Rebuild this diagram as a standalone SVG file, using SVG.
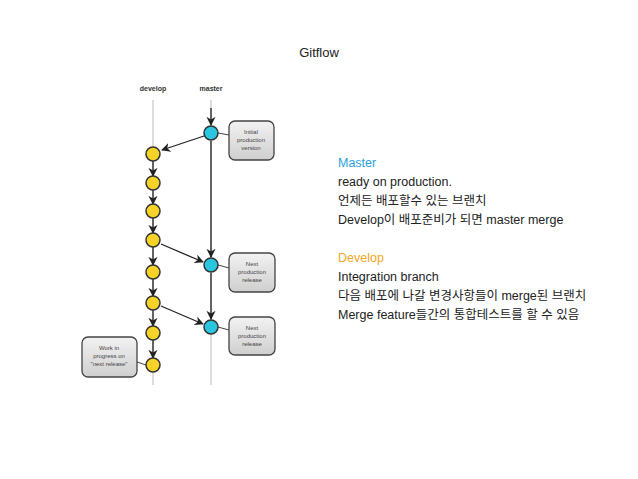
<svg xmlns="http://www.w3.org/2000/svg" width="638" height="479" viewBox="0 0 638 479">
<defs>
<marker id="ah" viewBox="0 0 10 10" refX="9" refY="5" markerWidth="7" markerHeight="7" orient="auto"><path d="M0,0 L10,5 L0,10 L3,5 z" fill="#222"/></marker>
<linearGradient id="bg" x1="0" y1="0" x2="0" y2="1"><stop offset="0" stop-color="#f2f2f2"/><stop offset="1" stop-color="#cfcfcf"/></linearGradient>
</defs>
<style>
.t{font-family:"Liberation Sans","Noto Sans CJK KR",sans-serif;fill:#222}
.lb{font-family:"Liberation Sans",sans-serif;font-size:7px;font-weight:bold;fill:#333;text-anchor:middle}
.bx{fill:url(#bg);stroke:#444;stroke-width:1.3}
.ct{font-family:"Liberation Sans",sans-serif;font-size:6px;fill:#444;text-anchor:middle}
.y{fill:#f5d327;stroke:#333;stroke-width:1.5}
.b{fill:#2ac6e0;stroke:#333;stroke-width:1.5}
.c{stroke:#222;stroke-width:1.3;fill:none;marker-end:url(#ah)}
.p{stroke:#444;stroke-width:1;fill:none}
</style>
<rect width="638" height="479" fill="#fff"/>
<text class="t" x="319" y="57" font-size="13" text-anchor="middle">Gitflow</text>
<text class="lb" x="153" y="91">develop</text>
<text class="lb" x="211" y="91">master</text>
<line x1="153" y1="100" x2="153" y2="385" stroke="#ddd" stroke-width="2"/>
<line x1="211" y1="100" x2="211" y2="385" stroke="#ddd" stroke-width="2"/>
<g id="connectors">
<path class="c" d="M211,108 L211,125"/>
<path class="c" d="M204,136 L162,150"/>
<path class="c" d="M211,141 L211,257"/>
<path class="c" d="M211,273 L211,319"/>
<path class="c" d="M153,161 L153,176"/>
<path class="c" d="M153,190 L153,204"/>
<path class="c" d="M153,218 L153,233"/>
<path class="c" d="M153,247 L153,265"/>
<path class="c" d="M153,279 L153,296"/>
<path class="c" d="M153,310 L153,326"/>
<path class="c" d="M153,340 L153,358"/>
<path class="c" d="M161,244 L203,262"/>
<path class="c" d="M161,306 L203,324"/>
<path class="p" d="M218,133 L229,135"/>
<path class="p" d="M218,265 L229,268"/>
<path class="p" d="M218,327 L229,330"/>
<path class="p" d="M137,362 L146,365"/>
</g>
<g id="n-m1"><circle class="b" cx="211" cy="133" r="7"/></g>
<g id="n-m2"><circle class="b" cx="211" cy="265" r="7"/></g>
<g id="n-m3"><circle class="b" cx="211" cy="327" r="7"/></g>
<g id="n-d1"><circle class="y" cx="153" cy="154" r="7"/></g>
<g id="n-d2"><circle class="y" cx="153" cy="183" r="7"/></g>
<g id="n-d3"><circle class="y" cx="153" cy="211" r="7"/></g>
<g id="n-d4"><circle class="y" cx="153" cy="240" r="7"/></g>
<g id="n-d5"><circle class="y" cx="153" cy="272" r="7"/></g>
<g id="n-d6"><circle class="y" cx="153" cy="303" r="7"/></g>
<g id="n-d7"><circle class="y" cx="153" cy="333" r="7"/></g>
<g id="n-d8"><circle class="y" cx="153" cy="365" r="7"/></g>
<g id="c1"><rect class="bx" x="229" y="121" width="45" height="39" rx="6"/><text class="ct" x="251" y="134">Initial</text><text class="ct" x="251" y="142">production</text><text class="ct" x="251" y="150">version</text></g>
<g id="c2"><rect class="bx" x="229" y="253" width="46" height="39" rx="6"/><text class="ct" x="252" y="266">Next</text><text class="ct" x="252" y="274">production</text><text class="ct" x="252" y="282">release</text></g>
<g id="c3"><rect class="bx" x="229" y="317" width="46" height="38" rx="6"/><text class="ct" x="252" y="330">Next</text><text class="ct" x="252" y="338">production</text><text class="ct" x="252" y="346">release</text></g>
<g id="c4"><rect class="bx" x="82" y="337" width="55" height="40" rx="6"/><text class="ct" x="109" y="350">Work in</text><text class="ct" x="109" y="358">progress on</text><text class="ct" x="109" y="366">"next release"</text></g>
<g font-size="12.5">
<text class="t" x="338" y="167" style="fill:#2a9fe0">Master</text>
<text class="t" x="338" y="186">ready on production.</text>
<text class="t" x="338" y="205">언제든 배포할수 있는 브랜치</text>
<text class="t" x="338" y="224">Develop이 배포준비가 되면 master merge</text>
<text class="t" x="338" y="262" style="fill:#f5a623">Develop</text>
<text class="t" x="338" y="281">Integration branch</text>
<text class="t" x="338" y="300">다음 배포에 나갈 변경사항들이 merge된 브랜치</text>
<text class="t" x="338" y="319">Merge feature들간의 통합테스트를 할 수 있음</text>
</g>
</svg>
